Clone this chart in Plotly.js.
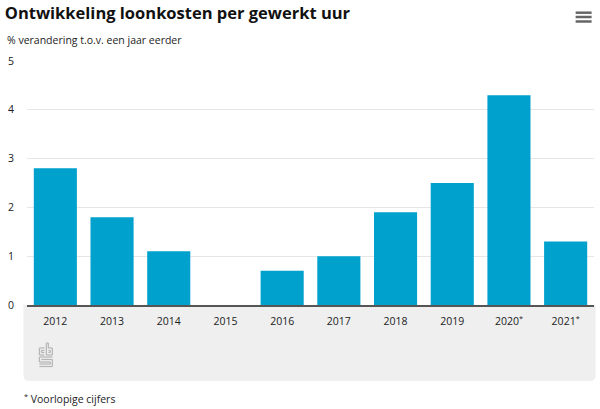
<!DOCTYPE html>
<html>
<head>
<meta charset="utf-8">
<script src="https://cdn.plot.ly/plotly-3.0.1.min.js"></script>
<style>
html,body{margin:0;padding:0;background:#fff;}
#chart{width:600px;height:409px;}
</style>
</head>
<body>
<div id="chart"></div>
<script>
var years = ["2012","2013","2014","2015","2016","2017","2018","2019","2020","2021"];
var values = [2.8, 1.8, 1.1, 0, 0.7, 1.0, 1.9, 2.5, 4.3, 1.3];
var tickLabels = ["2012","2013","2014","2015","2016","2017","2018","2019","2020<sup>*</sup>","2021<sup>*</sup>"];
var yTicks = [0,1,2,3,4,5];

var W = 600, H = 409;
var mL = 26.6, mR = 5.6, mT = 61, mB = 104;
var pw = W - mL - mR, ph = H - mT - mB;
function px(x){ return (x - mL) / pw; }
function py(y){ return (H - mB - y) / ph; }

// rounded gray panel below axis
var bx0 = px(23), bx1 = px(596), by0 = py(305), by1 = py(381);
var rx = 6 / pw, ry = 6 / ph;
var panelPath = 'M ' + bx0 + ',' + by0 + ' L ' + bx1 + ',' + by0 +
  ' L ' + bx1 + ',' + (by1 + ry) + ' Q ' + bx1 + ',' + by1 + ' ' + (bx1 - rx) + ',' + by1 +
  ' L ' + (bx0 + rx) + ',' + by1 + ' Q ' + bx0 + ',' + by1 + ' ' + bx0 + ',' + (by1 + ry) + ' Z';

var shapes = [
  {type:'path', xref:'paper', yref:'paper', path: panelPath, fillcolor:'#efefef', line:{width:0}, layer:'below'}
];
// menu icon
[12.7, 17, 21.5].forEach(function(y){
  shapes.push({type:'line', xref:'paper', yref:'paper', x0:px(576), x1:px(592), y0:py(y), y1:py(y), line:{color:'#666', width:2.5}});
});
// CBS logo approximation
var lg = '#b5b5b5';
function seg(x0,y0,x1,y1){ shapes.push({type:'line', xref:'paper', yref:'paper', x0:px(x0), x1:px(x1), y0:py(y0), y1:py(y1), line:{color:lg, width:1.2}}); }
// "c"
seg(39,348,44,348); seg(39,348,39,355); seg(39,355,44,355);
seg(41,350.5,44,350.5); seg(41,350.5,41,352.5); seg(41,352.5,44,352.5);
// "b"
seg(46,343,46,355); seg(46,355,52,355); seg(52,355,52,348); seg(52,348,48,348); seg(48,348,48,343); seg(48,343,46,343);
seg(48,350.5,50,350.5); seg(50,350.5,50,352.5); seg(50,352.5,48,352.5);
// "S"
seg(39,357,52,357); seg(39,357,39,362); seg(39,362,50,362); seg(50,362,50,364); seg(50,364,39,364);
seg(41,359.5,52,359.5); seg(52,359.5,52,366.5); seg(52,366.5,39,366.5);

var trace = {
  type:'bar', x: years, y: values,
  marker:{color:'#00A1CD'},
  hoverinfo:'x+y'
};

var layout = {
  width: W, height: H,
  margin:{l:mL, r:mR, t:mT, b:mB, pad:0},
  paper_bgcolor:'#ffffff', plot_bgcolor:'#ffffff',
  font:{family:'"Open Sans", sans-serif', color:'#333'},
  bargap: 0.24,
  showlegend:false,
  xaxis:{
    type:'category', tickmode:'array', tickvals: years, ticktext: tickLabels,
    showgrid:false, zeroline:false, showline:true, linecolor:'#555', linewidth:1.5,
    ticks:'', ticklabelstandoff: 6,
    tickfont:{size:10.5, color:'#222'}, fixedrange:true
  },
  yaxis:{
    range:[0,5], tickvals: yTicks, showgrid:true, gridcolor:'#e6e6e6', gridwidth:1,
    zeroline:false, showline:false, ticks:'', ticklabelstandoff: 12,
    tickfont:{size:10.5, color:'#222'}, fixedrange:true
  },
  title:{text:'<b>Ontwikkeling loonkosten per gewerkt uur</b>', x:0.008, xref:'container', xanchor:'left', y:0.968, yref:'container', yanchor:'middle',
    font:{size:16.5, color:'#111', family:'"Open Sans", sans-serif'}},
  annotations:[
    {text:'% verandering t.o.v. een jaar eerder', xref:'paper', yref:'paper', x:px(5), y:py(40), xanchor:'left', yanchor:'middle', showarrow:false, font:{size:10.5, color:'#222'}},
    {text:'<sup>*</sup> Voorlopige cijfers', xref:'paper', yref:'paper', x:px(22), y:py(398), xanchor:'left', yanchor:'middle', showarrow:false, font:{size:10.5, color:'#222'}}
  ],
  shapes: shapes
};

Plotly.newPlot('chart', [trace], layout, {displayModeBar:false, responsive:false});
</script>
</body>
</html>
